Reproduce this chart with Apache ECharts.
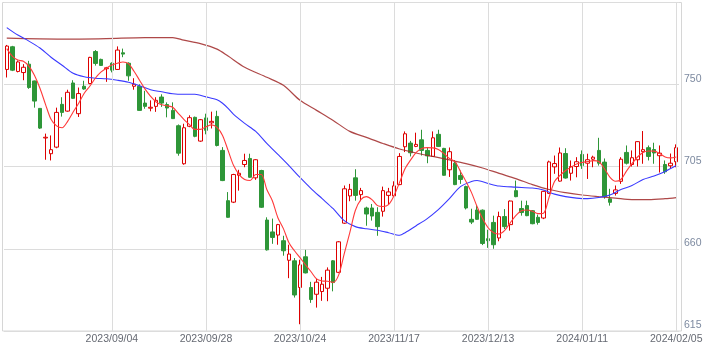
<!DOCTYPE html>
<html>
<head>
<meta charset="utf-8">
<script src="https://cdn.jsdelivr.net/npm/echarts@6/dist/echarts.min.js"></script>
<style>
html,body{margin:0;padding:0;background:#fff;}
#chart{width:718px;height:352px;}
</style>
</head>
<body>
<div id="chart"></div>
<script>
const dates = [
'2023/08/07','2023/08/08','2023/08/09','2023/08/10','2023/08/14','2023/08/15','2023/08/16','2023/08/17','2023/08/18',
'2023/08/21','2023/08/22','2023/08/23','2023/08/24','2023/08/25','2023/08/28','2023/08/29','2023/08/30','2023/08/31',
'2023/09/01','2023/09/04','2023/09/05','2023/09/06','2023/09/07','2023/09/08','2023/09/11','2023/09/12','2023/09/13',
'2023/09/14','2023/09/15','2023/09/19','2023/09/20','2023/09/21','2023/09/22','2023/09/25','2023/09/26','2023/09/27',
'2023/09/28','2023/09/29','2023/10/02','2023/10/03','2023/10/04','2023/10/05','2023/10/06','2023/10/10','2023/10/11',
'2023/10/12','2023/10/13','2023/10/16','2023/10/17','2023/10/18','2023/10/19','2023/10/20','2023/10/23','2023/10/24',
'2023/10/25','2023/10/26','2023/10/27','2023/10/30','2023/10/31','2023/11/01','2023/11/02','2023/11/06','2023/11/07',
'2023/11/08','2023/11/09','2023/11/10','2023/11/13','2023/11/14','2023/11/15','2023/11/16','2023/11/17','2023/11/20',
'2023/11/21','2023/11/22','2023/11/24','2023/11/27','2023/11/28','2023/11/29','2023/11/30','2023/12/01','2023/12/04',
'2023/12/05','2023/12/06','2023/12/07','2023/12/08','2023/12/11','2023/12/12','2023/12/13','2023/12/14','2023/12/15',
'2023/12/18','2023/12/19','2023/12/20','2023/12/21','2023/12/22','2023/12/25','2023/12/26','2023/12/27','2023/12/28',
'2023/12/29','2024/01/04','2024/01/05','2024/01/09','2024/01/10','2024/01/11','2024/01/12','2024/01/15','2024/01/16',
'2024/01/17','2024/01/18','2024/01/19','2024/01/22','2024/01/23','2024/01/24','2024/01/25','2024/01/26','2024/01/29',
'2024/01/30','2024/01/31','2024/02/01','2024/02/02','2024/02/05'
];

const opens = [
758.1,770.5,757.0,756.4,761.0,751.8,736.8,720.6,712.0,715.6,
739.0,735.3,750.7,733.9,748.9,750.4,767.9,763.6,758.5,761.5,
758.1,767.2,761.5,748.9,748.9,739.7,736.9,737.9,743.0,738.9,
735.7,727.3,706.5,727.0,731.9,718.9,731.6,728.9,732.4,713.8,
686.3,685.5,700.2,706.1,709.4,698.8,702.8,675.7,669.2,667.5,
664.4,653.7,653.4,638.8,655.6,638.8,635.1,636.6,638.4,653.4,
647.1,674.0,688.9,698.8,689.6,682.3,682.3,679.9,680.5,689.2,
688.9,695.1,715.8,717.8,716.0,719.6,713.8,710.5,722.6,714.9,
703.2,706.8,700.1,694.0,676.1,681.2,681.1,665.5,674.4,665.9,
677.6,673.2,691.8,682.0,683.6,680.8,677.2,676.8,690.3,704.8,
697.0,712.1,701.3,705.0,711.6,706.8,709.0,713.8,707.4,687.3,
690.3,696.9,712.7,706.1,708.7,713.1,715.3,714.3,710.9,706.1,
705.4,707.6
];
const closes = [
770.9,757.7,762.2,759.3,748.2,740.8,726.0,721.0,714.2,734.6,
734.6,745.6,742.3,744.9,747.4,764.7,761.4,760.3,759.0,757.7,
768.7,766.5,754.6,750.0,735.7,737.9,737.4,741.2,739.7,737.0,
731.2,712.3,726.2,731.7,721.5,730.6,724.8,729.7,716.5,697.3,
677.2,700.6,701.3,708.3,699.1,708.7,682.7,659.4,666.2,673.2,
658.9,657.1,634.7,651.2,646.8,632.2,641.7,640.6,648.3,641.5,
663.8,692.8,692.5,689.2,691.8,679.0,677.9,672.1,691.8,691.1,
694.4,710.5,722.9,712.5,717.1,713.8,710.8,720.7,716.0,700.2,
713.1,695.1,697.9,682.3,674.6,676.1,662.9,664.4,662.2,677.6,
672.1,686.1,688.5,679.8,678.1,673.7,674.4,691.4,707.5,706.6,
712.4,698.7,705.0,707.6,705.5,708.7,710.1,706.8,688.5,685.4,
692.2,709.0,706.8,709.8,718.6,714.2,710.5,712.4,712.3,702.1,
706.8,715.3
];
const lows = [
753.7,757.2,756.5,752.2,747.5,737.2,725.5,708.7,708.3,715.0,
732.3,735.0,742.0,732.1,747.0,750.0,760.2,760.0,751.3,756.5,
757.8,764.8,751.9,747.0,735.5,736.6,735.2,734.9,737.6,731.9,
731.0,710.9,706.0,726.5,721.0,718.5,722.6,725.8,716.0,697.0,
677.0,685.0,691.8,704.6,698.8,697.7,682.3,659.0,662.7,662.2,
656.2,643.9,633.3,618.7,646.5,630.4,627.8,631.5,631.3,636.7,
646.8,673.6,686.0,686.3,686.0,672.6,675.4,667.1,677.6,684.1,
688.5,694.8,712.9,710.5,715.6,711.0,706.8,710.2,715.7,700.0,
699.3,694.8,695.5,681.5,673.5,675.8,662.0,660.5,660.0,664.1,
670.8,669.9,688.2,678.1,677.8,673.4,673.2,676.2,690.0,701.0,
696.7,698.4,697.3,699.1,703.7,698.2,704.6,705.5,687.4,683.6,
689.1,695.5,706.1,705.0,705.0,706.5,708.3,706.5,701.7,701.0,
703.7,704.6
];
const highs = [
771.5,771.0,763.0,761.0,762.8,752.0,737.0,723.0,722.0,737.2,
742.9,747.0,752.2,748.2,751.9,765.0,768.7,764.0,759.5,762.0,
770.7,769.5,762.0,753.3,750.0,746.4,741.2,742.9,744.5,740.1,
740.1,728.0,728.4,733.0,732.3,731.0,733.9,735.0,735.5,715.6,
691.0,701.0,703.2,712.0,712.0,709.0,703.2,677.2,676.5,673.6,
667.1,662.2,654.9,654.0,659.4,641.9,643.5,644.6,649.8,653.8,
664.2,694.6,695.5,703.5,693.3,683.0,684.5,682.7,694.0,693.3,
696.9,712.3,724.2,719.0,723.5,725.1,715.6,724.2,725.1,715.2,
715.4,708.5,702.8,694.5,681.9,683.9,681.5,670.4,678.1,680.3,
681.7,686.4,697.3,686.3,686.3,681.2,678.7,691.7,708.2,711.0,
715.4,715.0,708.3,710.1,713.8,712.0,710.9,720.7,709.4,692.8,
694.6,710.1,716.5,713.8,718.8,724.4,716.5,718.0,716.5,708.3,
712.1,717.1
];

const maShort = [
769.5,765.4,763.2,762.6,759.9,754.9,747.8,739.0,730.8,727.2,
726.2,729.7,734.8,739.6,745.1,748.9,753.3,756.6,758.8,760.5,
761.5,762.2,761.3,757.1,752.2,747.3,743.4,740.3,738.8,738.2,
737.4,734.1,730.8,728.0,725.3,725.3,726.7,727.8,726.4,722.0,
713.8,705.5,700.6,697.9,697.3,700.6,700.6,692.4,686.3,677.0,
671.0,663.3,658.9,655.1,651.2,647.4,643.5,642.4,642.2,641.6,
645.7,657.3,668.8,680.9,686.9,688.5,686.9,683.6,683.1,684.1,
689.1,696.3,703.9,708.6,712.7,714.9,715.3,715.2,714.3,712.1,
709.4,707.7,702.3,696.8,690.7,683.1,676.5,671.5,668.8,668.1,
670.1,674.2,678.1,680.8,681.2,680.5,679.2,679.4,688.0,696.8,
700.1,702.8,704.7,706.4,707.2,707.7,708.2,707.7,703.9,699.2,
696.9,697.9,702.5,706.6,710.2,712.7,713.5,713.4,712.1,710.2,
709.7,710.2
];

const maMid = [
[0,781.0],[2,776.9],[4,773.6],[6,769.8],[8,764.8],[10,760.4],[12,756.0],[14,754.1],[16,753.3],[18,753.0],
[20,752.2],[22,751.1],[24,749.2],[26,747.0],[28,745.9],[30,744.8],[32,744.5],[34,744.5],[36,743.1],[38,741.5],
[39,739.6],[40,736.8],[41,733.5],[43,728.6],[45,724.2],[47,717.6],[49,711.6],[51,705.5],[53,699.0],[55,692.9],
[57,687.4],[59,681.9],[61,675.4],[63,672.1],[65,670.9],[67,670.1],[69,668.8],[71,667.4],[72,668.8],[74,672.6],
[76,676.5],[78,681.4],[80,687.4],[82,694.0],[84,696.8],[85,697.3],[87,695.7],[89,694.3],[92,693.7],[95,693.2],
[97,692.1],[99,689.9],[101,688.5],[103,687.7],[105,687.4],[107,688.0],[109,689.4],[111,692.4],[113,694.6],[115,697.9],
[117,699.8],[119,702.3],[121,705.5]
];

const maLong = [
[0,775.2],[10,774.7],[18,775.0],[25,775.5],[30,775.5],[32,774.1],[35,772.2],[38,769.2],[40,765.4],[43,759.3],
[47,753.8],[50,749.4],[53,741.2],[56,735.7],[59,730.2],[62,724.2],[65,720.9],[68,717.6],[71,714.6],[74,712.4],
[77,710.5],[80,708.6],[83,706.6],[86,704.2],[89,701.2],[92,698.4],[95,695.1],[98,692.4],[101,690.7],[104,689.4],
[107,688.5],[110,687.7],[113,686.9],[116,686.9],[119,687.4],[121,688.0]
];

const xTickLabels = ['2023/09/04','2023/09/28','2023/10/24','2023/11/17','2023/12/13','2024/01/11','2024/02/05'];
const yMin = 615, yMax = 795, yStep = 45;

const chart = echarts.init(document.getElementById('chart'), null, {renderer: 'canvas'});
const candleData = dates.map((d, i) => [opens[i], closes[i], lows[i], highs[i]]);
const FONT = "'Liberation Sans', Arial, sans-serif";

chart.setOption({
  animation: false,
  backgroundColor: '#ffffff',
  grid: {left: 4, right: 39, top: 2, bottom: 21, containLabel: false},
  graphic: [{
    type: 'rect', z: 0, silent: true,
    shape: {x: 2.5, y: 2.5, width: 679, height: 328.5},
    style: {fill: 'none', stroke: '#d6d6d6', lineWidth: 1}
  }],
  xAxis: {
    type: 'category', data: dates, boundaryGap: true,
    axisLine: {show: false}, axisTick: {show: false}, splitLine: {show: false},
    axisLabel: {
      interval: (idx, val) => xTickLabels.indexOf(val) >= 0,
      margin: 3, color: '#666a73', fontSize: 10.5, fontFamily: FONT
    }
  },
  yAxis: {
    type: 'value', position: 'right', min: yMin, max: yMax, interval: yStep, scale: true,
    axisLine: {show: false}, axisTick: {show: false},
    splitLine: {show: true, lineStyle: {color: '#dcdcdc', width: 1}},
    axisLabel: {showMaxLabel: false, showMinLabel: true, margin: 5, verticalAlign: 'bottom',
      color: '#7d8aa0', fontSize: 10.5, fontFamily: FONT}
  },
  series: [
    {
      type: 'line', data: dates.map(() => null), z: 1, silent: true, symbol: 'none',
      markLine: {
        silent: true, symbol: ['none', 'none'], animation: false,
        label: {show: false},
        lineStyle: {color: '#dcdcdc', type: 'solid', width: 1},
        data: xTickLabels.map(d => ({xAxis: d}))
      }
    },
    {
      type: 'candlestick', data: candleData, z: 2, barWidth: 4,
      itemStyle: {
        color: '#ffffff', color0: '#2e9638',
        borderColor: '#dd0000', borderColor0: '#2e9638', borderWidth: 1
      }
    },
    {
      type: 'line', data: maLong, z: 3, symbol: 'none', smooth: 0.3,
      lineStyle: {color: 'rgba(160,40,40,0.85)', width: 1.2}
    },
    {
      type: 'line', data: maMid, z: 4, symbol: 'none', smooth: 0.3,
      lineStyle: {color: '#3a3aff', width: 1.1}
    },
    {
      type: 'line', data: maShort, z: 5, symbol: 'none', smooth: 0.3,
      lineStyle: {color: '#ff3a3a', width: 1.1}
    }
  ]
});
</script>
</body>
</html>
